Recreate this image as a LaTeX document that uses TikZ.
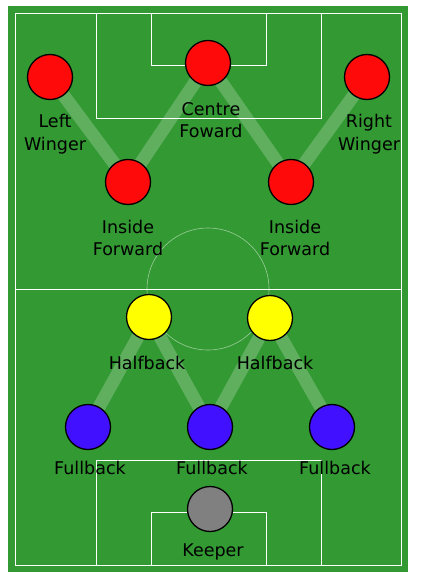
\documentclass[tikz,border=0pt]{standalone}
\usepackage{fontspec}
\setmainfont{DejaVu Sans}
\definecolor{grass}{HTML}{339933}
\definecolor{fwd}{HTML}{FF0A0A}
\definecolor{half}{HTML}{FFFF00}
\definecolor{back}{HTML}{4010FF}
\definecolor{keep}{HTML}{808080}
\tikzset{
  player/.style={circle,draw=black,line width=1.3pt,minimum size=45pt,inner sep=0pt},
  lbl/.style={align=center,font=\fontsize{17.5}{22.5}\selectfont,inner sep=0pt},
  link/.style={white,opacity=0.22,line width=13pt},
  pitch/.style={white,line width=1pt}
}
\begin{document}
\begin{tikzpicture}[x=1pt,y=-1pt]
        \useasboundingbox (0,0) rectangle (422,580);
        % grass and markings
        \fill[grass] (8,6) rectangle (408,572);
        \draw[pitch] (15,14) rectangle (401,565);
        \draw[pitch] (15,289) -- (401,289);
        \draw[pitch] (96,14) rectangle (321,119);
        \draw[pitch] (151,14) rectangle (266,66);
        \draw[pitch] (96,565) rectangle (321,460);
        \draw[pitch] (151,565) rectangle (266,512);
        \draw[white,opacity=0.5,line width=0.6pt] (208,289) circle (61);
        % players
        \coordinate (lw) at (50,77);
        \coordinate (cf) at (208,63);
        \coordinate (rw) at (367,77);
        \coordinate (lif) at (128,182);
        \coordinate (rif) at (291,182);
        \coordinate (lhb) at (149,317);
        \coordinate (rhb) at (270,318);
        \coordinate (lfb) at (88,427);
        \coordinate (cfb) at (210,427);
        \coordinate (rfb) at (332,427);
        \coordinate (gk) at (210,509);
        % links
        \draw[link] (lw) -- (lif) -- (cf) -- (rif) -- (rw);
        \draw[link] (lfb) -- (lhb) -- (cfb) -- (rhb) -- (rfb);
        \node[player,fill=fwd] (lwn) at (lw) {};
        \node[player,fill=fwd] (cfn) at (cf) {};
        \node[player,fill=fwd] (rwn) at (rw) {};
        \node[player,fill=fwd] (lifn) at (lif) {};
        \node[player,fill=fwd] (rifn) at (rif) {};
        \node[player,fill=half] (lhbn) at (lhb) {};
        \node[player,fill=half] (rhbn) at (rhb) {};
        \node[player,fill=back] (lfbn) at (lfb) {};
        \node[player,fill=back] (cfbn) at (cfb) {};
        \node[player,fill=back] (rfbn) at (rfb) {};
        \node[player,fill=keep] (gkn) at (gk) {};
        % names
        \node[lbl] (lwt) at (55,134) {Left\\Winger};
        \node[lbl] (cft) at (211,120) {Centre\\Foward};
        \node[lbl] (rwt) at (369,134) {Right\\Winger};
        \node[lbl] (lift) at (128,238) {Inside\\Forward};
        \node[lbl] (rift) at (295,238) {Inside\\Forward};
        \node[lbl] (lhbt) at (147,363) {Halfback};
        \node[lbl] (rhbt) at (275,363) {Halfback};
        \node[lbl] (lfbt) at (90,468) {Fullback};
        \node[lbl] (cfbt) at (212,468) {Fullback};
        \node[lbl] (rfbt) at (335,468) {Fullback};
        \node[lbl] (gkt) at (213,552) {Keeper};
    \end{tikzpicture}
\end{document}
